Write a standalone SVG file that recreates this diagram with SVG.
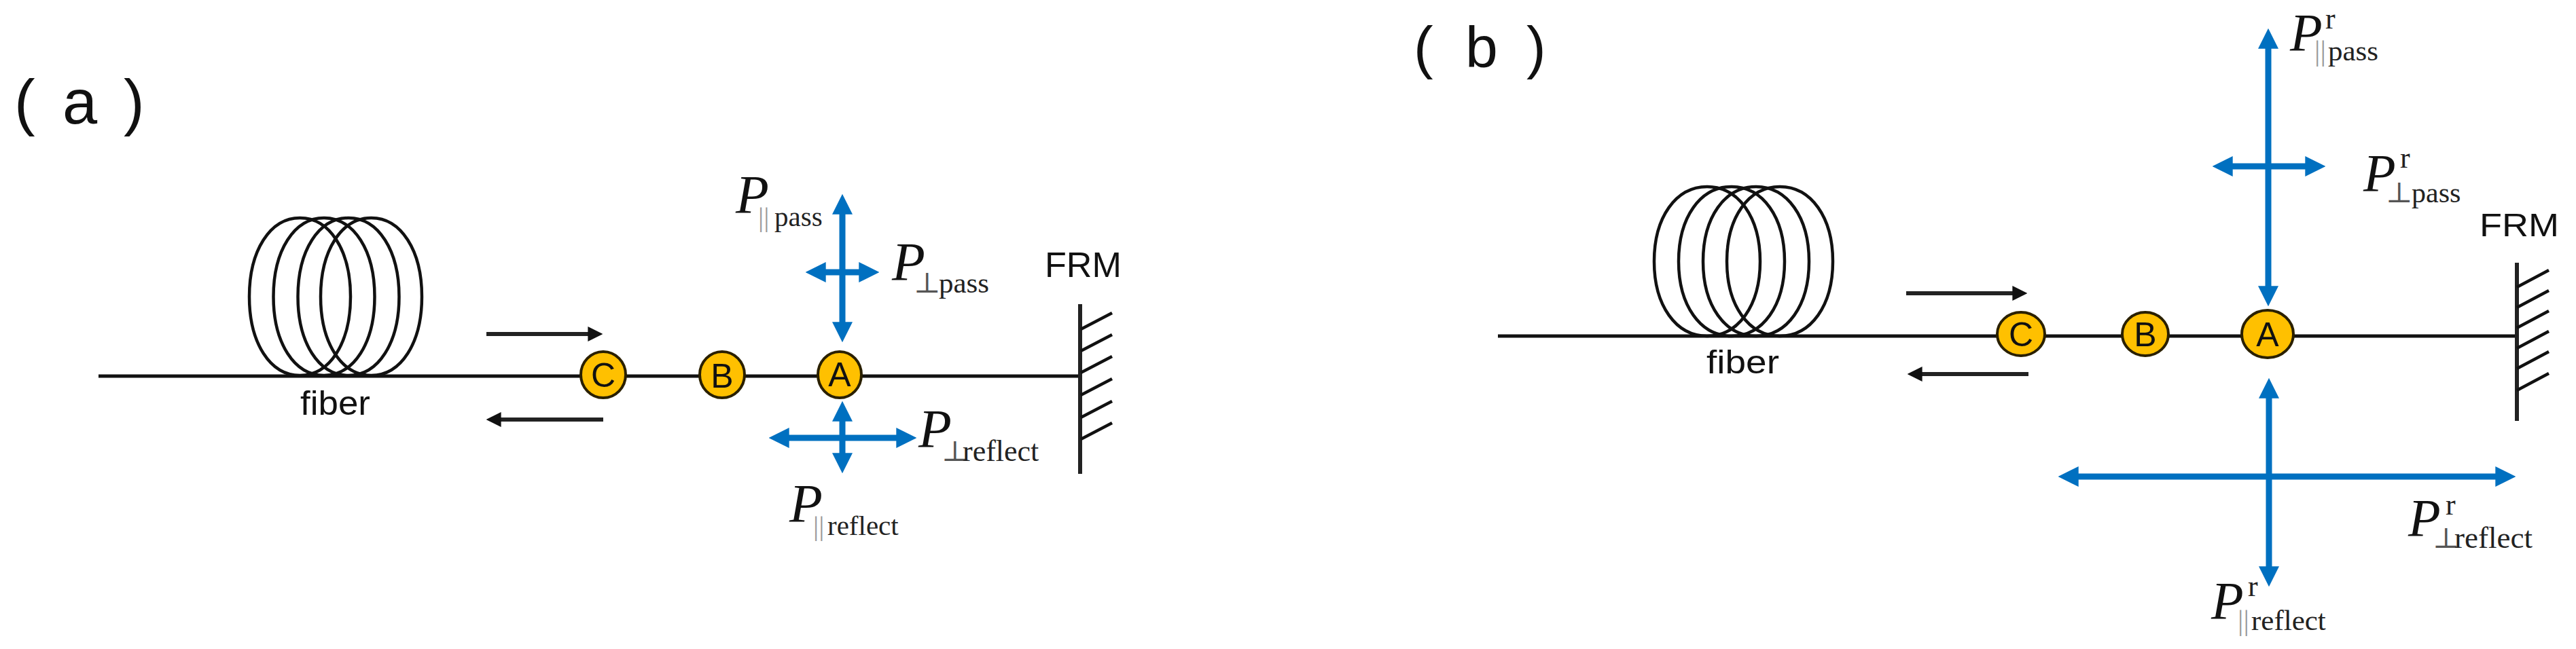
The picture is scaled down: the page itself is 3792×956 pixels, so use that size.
<svg xmlns="http://www.w3.org/2000/svg" width="3792" height="956" viewBox="0 0 3792 956">
<style>
.sans{font-family:"Liberation Sans",Arial,sans-serif;fill:#111}
.serif{font-family:"Liberation Serif","Times New Roman",serif;fill:#222}
.p{font-style:italic;fill:#111}
.par{fill:#999}
.perp{font-family:"DejaVu Serif","Liberation Serif",serif;fill:#555}
.wire{fill:none;stroke:#111;stroke-width:5}
.coil{fill:none;stroke:#111;stroke-width:4.5}
.flow{fill:none;stroke:#222;stroke-width:6;marker-end:url(#blackHead)}
.pol{fill:none;stroke:#0070C0;stroke-width:9;marker-start:url(#blueHead);marker-end:url(#blueHead)}
.mirror{fill:none;stroke:#222;stroke-width:6}
.hatch{fill:none;stroke:#111;stroke-width:4.5}
.dot{fill:#FFC000;stroke:#2a2000;stroke-width:4}
.dotlabel{font-size:50px;text-anchor:middle}
</style>
<defs>
<marker id="blueHead" markerUnits="userSpaceOnUse" markerWidth="30" markerHeight="30" viewBox="0 0 28 28" refX="10" refY="14" orient="auto-start-reverse">
<path d="M0 0L28 14L0 28Z" fill="#0070C0"/>
</marker>
<marker id="blackHead" markerUnits="userSpaceOnUse" markerWidth="22" markerHeight="22" viewBox="0 0 20 20" refX="6" refY="10" orient="auto">
<path d="M0 0L20 10L0 20Z" fill="#111"/>
</marker>
</defs>
<rect width="3792" height="956" fill="#fff"/>

<g id="panel-a-label"><text class="sans" font-size="92" y="182" x="21 92 182">(a)</text></g>
<g id="panel-b-label"><text class="sans" font-size="86" y="99" x="2081 2157 2247">(b)</text></g>

<g id="connectors">
<line class="wire" x1="145" y1="554" x2="1590" y2="554"/>
<line class="wire" x1="2205" y1="495" x2="3705" y2="495"/>
<line class="flow" x1="716" y1="492" x2="872" y2="492"/>
<line class="flow" x1="888" y1="618" x2="731" y2="618"/>
<line class="flow" x1="2806" y1="432" x2="2969" y2="432"/>
<line class="flow" x1="2986" y1="551" x2="2823" y2="551"/>
<line class="pol" x1="1240" y1="305" x2="1240" y2="485"/>
<line class="pol" x1="1205" y1="401" x2="1275" y2="401"/>
<line class="pol" x1="1240" y1="610" x2="1240" y2="678"/>
<line class="pol" x1="1151" y1="645" x2="1330" y2="645"/>
<line class="pol" x1="3339" y1="61" x2="3339" y2="432"/>
<line class="pol" x1="3276" y1="245" x2="3404" y2="245"/>
<line class="pol" x1="3340" y1="576" x2="3340" y2="845"/>
<line class="pol" x1="3049" y1="702" x2="3684" y2="702"/>
</g>

<g id="coil-a">
<path class="coil" d="M367 437c0-68 30.500-116 74.500-116c44 0 74.500 48 74.500 116c0 68-30.500 116-74.500 116c-44 0-74.500-48-74.500-116z"/>
<path class="coil" d="M402.500 437c0-68 30.500-116 74.500-116c44 0 74.500 48 74.500 116c0 68-30.500 116-74.500 116c-44 0-74.500-48-74.500-116z"/>
<path class="coil" d="M438.500 437c0-68 30.500-116 74.500-116c44 0 74.500 48 74.500 116c0 68-30.500 116-74.500 116c-44 0-74.500-48-74.500-116z"/>
<path class="coil" d="M472 437c0-68 30.500-116 74.500-116c44 0 74.500 48 74.500 116c0 68-30.500 116-74.500 116c-44 0-74.500-48-74.500-116z"/>
<text class="sans" font-size="50" x="442" y="611" textLength="103" lengthAdjust="spacingAndGlyphs">fiber</text>
</g>
<g id="coil-b">
<path class="coil" d="M2435 385c0-65 32-110 78-110c46 0 78 45 78 110c0 65-32 110-78 110c-46 0-78-45-78-110z"/>
<path class="coil" d="M2471 385c0-65 32-110 78-110c46 0 78 45 78 110c0 65-32 110-78 110c-46 0-78-45-78-110z"/>
<path class="coil" d="M2507 385c0-65 32-110 78-110c46 0 78 45 78 110c0 65-32 110-78 110c-46 0-78-45-78-110z"/>
<path class="coil" d="M2542 385c0-65 32-110 78-110c46 0 78 45 78 110c0 65-32 110-78 110c-46 0-78-45-78-110z"/>
<text class="sans" font-size="49" x="2512" y="550" textLength="107" lengthAdjust="spacingAndGlyphs">fiber</text>
</g>

<g id="node-a-C"><ellipse class="dot" cx="888" cy="552" rx="33" ry="34"/><text class="sans dotlabel" x="888" y="570">C</text></g>
<g id="node-a-B"><ellipse class="dot" cx="1063" cy="552" rx="33" ry="34"/><text class="sans dotlabel" x="1063" y="571">B</text></g>
<g id="node-a-A"><ellipse class="dot" cx="1236" cy="552" rx="32" ry="34"/><text class="sans dotlabel" x="1236" y="569">A</text></g>
<g id="node-b-C"><ellipse class="dot" cx="2975" cy="492" rx="35" ry="32"/><text class="sans dotlabel" x="2975" y="510">C</text></g>
<g id="node-b-B"><ellipse class="dot" cx="3158" cy="492" rx="34" ry="32"/><text class="sans dotlabel" x="3158" y="510">B</text></g>
<g id="node-b-A"><ellipse class="dot" cx="3338" cy="492" rx="38" ry="35"/><text class="sans dotlabel" x="3338" y="510">A</text></g>

<g id="mirror-a">
<line class="mirror" x1="1590" y1="448" x2="1590" y2="698"/>
<path class="hatch" d="M1591 485L1637 461M1591 517L1637 493M1591 549L1637 525M1591 582L1637 558M1591 615L1637 591M1591 647L1637 623"/>
<text class="sans" font-size="52" x="1538" y="408" textLength="113" lengthAdjust="spacingAndGlyphs">FRM</text>
</g>
<g id="mirror-b">
<line class="mirror" x1="3705" y1="387" x2="3705" y2="620"/>
<path class="hatch" d="M3705 423L3752 398M3705 453L3752 428M3705 483L3752 458M3705 513L3752 488M3705 543L3752 518M3705 575L3752 550"/>
<text class="sans" font-size="49" x="3650" y="348" textLength="117" lengthAdjust="spacingAndGlyphs">FRM</text>
</g>

<g id="labels-a">
<text class="serif"><tspan class="p" font-size="80" x="1083" y="314">P</tspan><tspan class="par" font-size="41" x="1116" y="333">||</tspan><tspan font-size="41" x="1140" y="333">pass</tspan></text>
<text class="serif"><tspan class="p" font-size="80" x="1313" y="413">P</tspan><tspan class="perp" font-size="42" x="1345" y="431">⊥</tspan><tspan font-size="43" x="1382" y="431">pass</tspan></text>
<text class="serif"><tspan class="p" font-size="80" x="1352" y="659">P</tspan><tspan class="perp" font-size="42" x="1386" y="679">⊥</tspan><tspan font-size="44" x="1417" y="679">reflect</tspan></text>
<text class="serif"><tspan class="p" font-size="80" x="1162" y="769">P</tspan><tspan class="par" font-size="41" x="1197" y="788">||</tspan><tspan font-size="41" x="1218" y="788">reflect</tspan></text>
</g>
<g id="labels-b">
<text class="serif"><tspan class="p" font-size="78" x="3371" y="74">P</tspan><tspan font-size="44" x="3423" y="42">r</tspan><tspan class="par" font-size="42" x="3407" y="89">||</tspan><tspan font-size="43" x="3427" y="89">pass</tspan></text>
<text class="serif"><tspan class="p" font-size="78" x="3479" y="281">P</tspan><tspan font-size="44" x="3533" y="247">r</tspan><tspan class="perp" font-size="42" x="3512" y="298">⊥</tspan><tspan font-size="42" x="3550" y="298">pass</tspan></text>
<text class="serif"><tspan class="p" font-size="78" x="3545" y="789">P</tspan><tspan font-size="44" x="3600" y="758">r</tspan><tspan class="perp" font-size="42" x="3581" y="807">⊥</tspan><tspan font-size="45" x="3613" y="807">reflect</tspan></text>
<text class="serif"><tspan class="p" font-size="78" x="3255" y="911">P</tspan><tspan font-size="44" x="3309" y="878">r</tspan><tspan class="par" font-size="42" x="3294" y="928">||</tspan><tspan font-size="43" x="3314" y="928">reflect</tspan></text>
</g>
</svg>
